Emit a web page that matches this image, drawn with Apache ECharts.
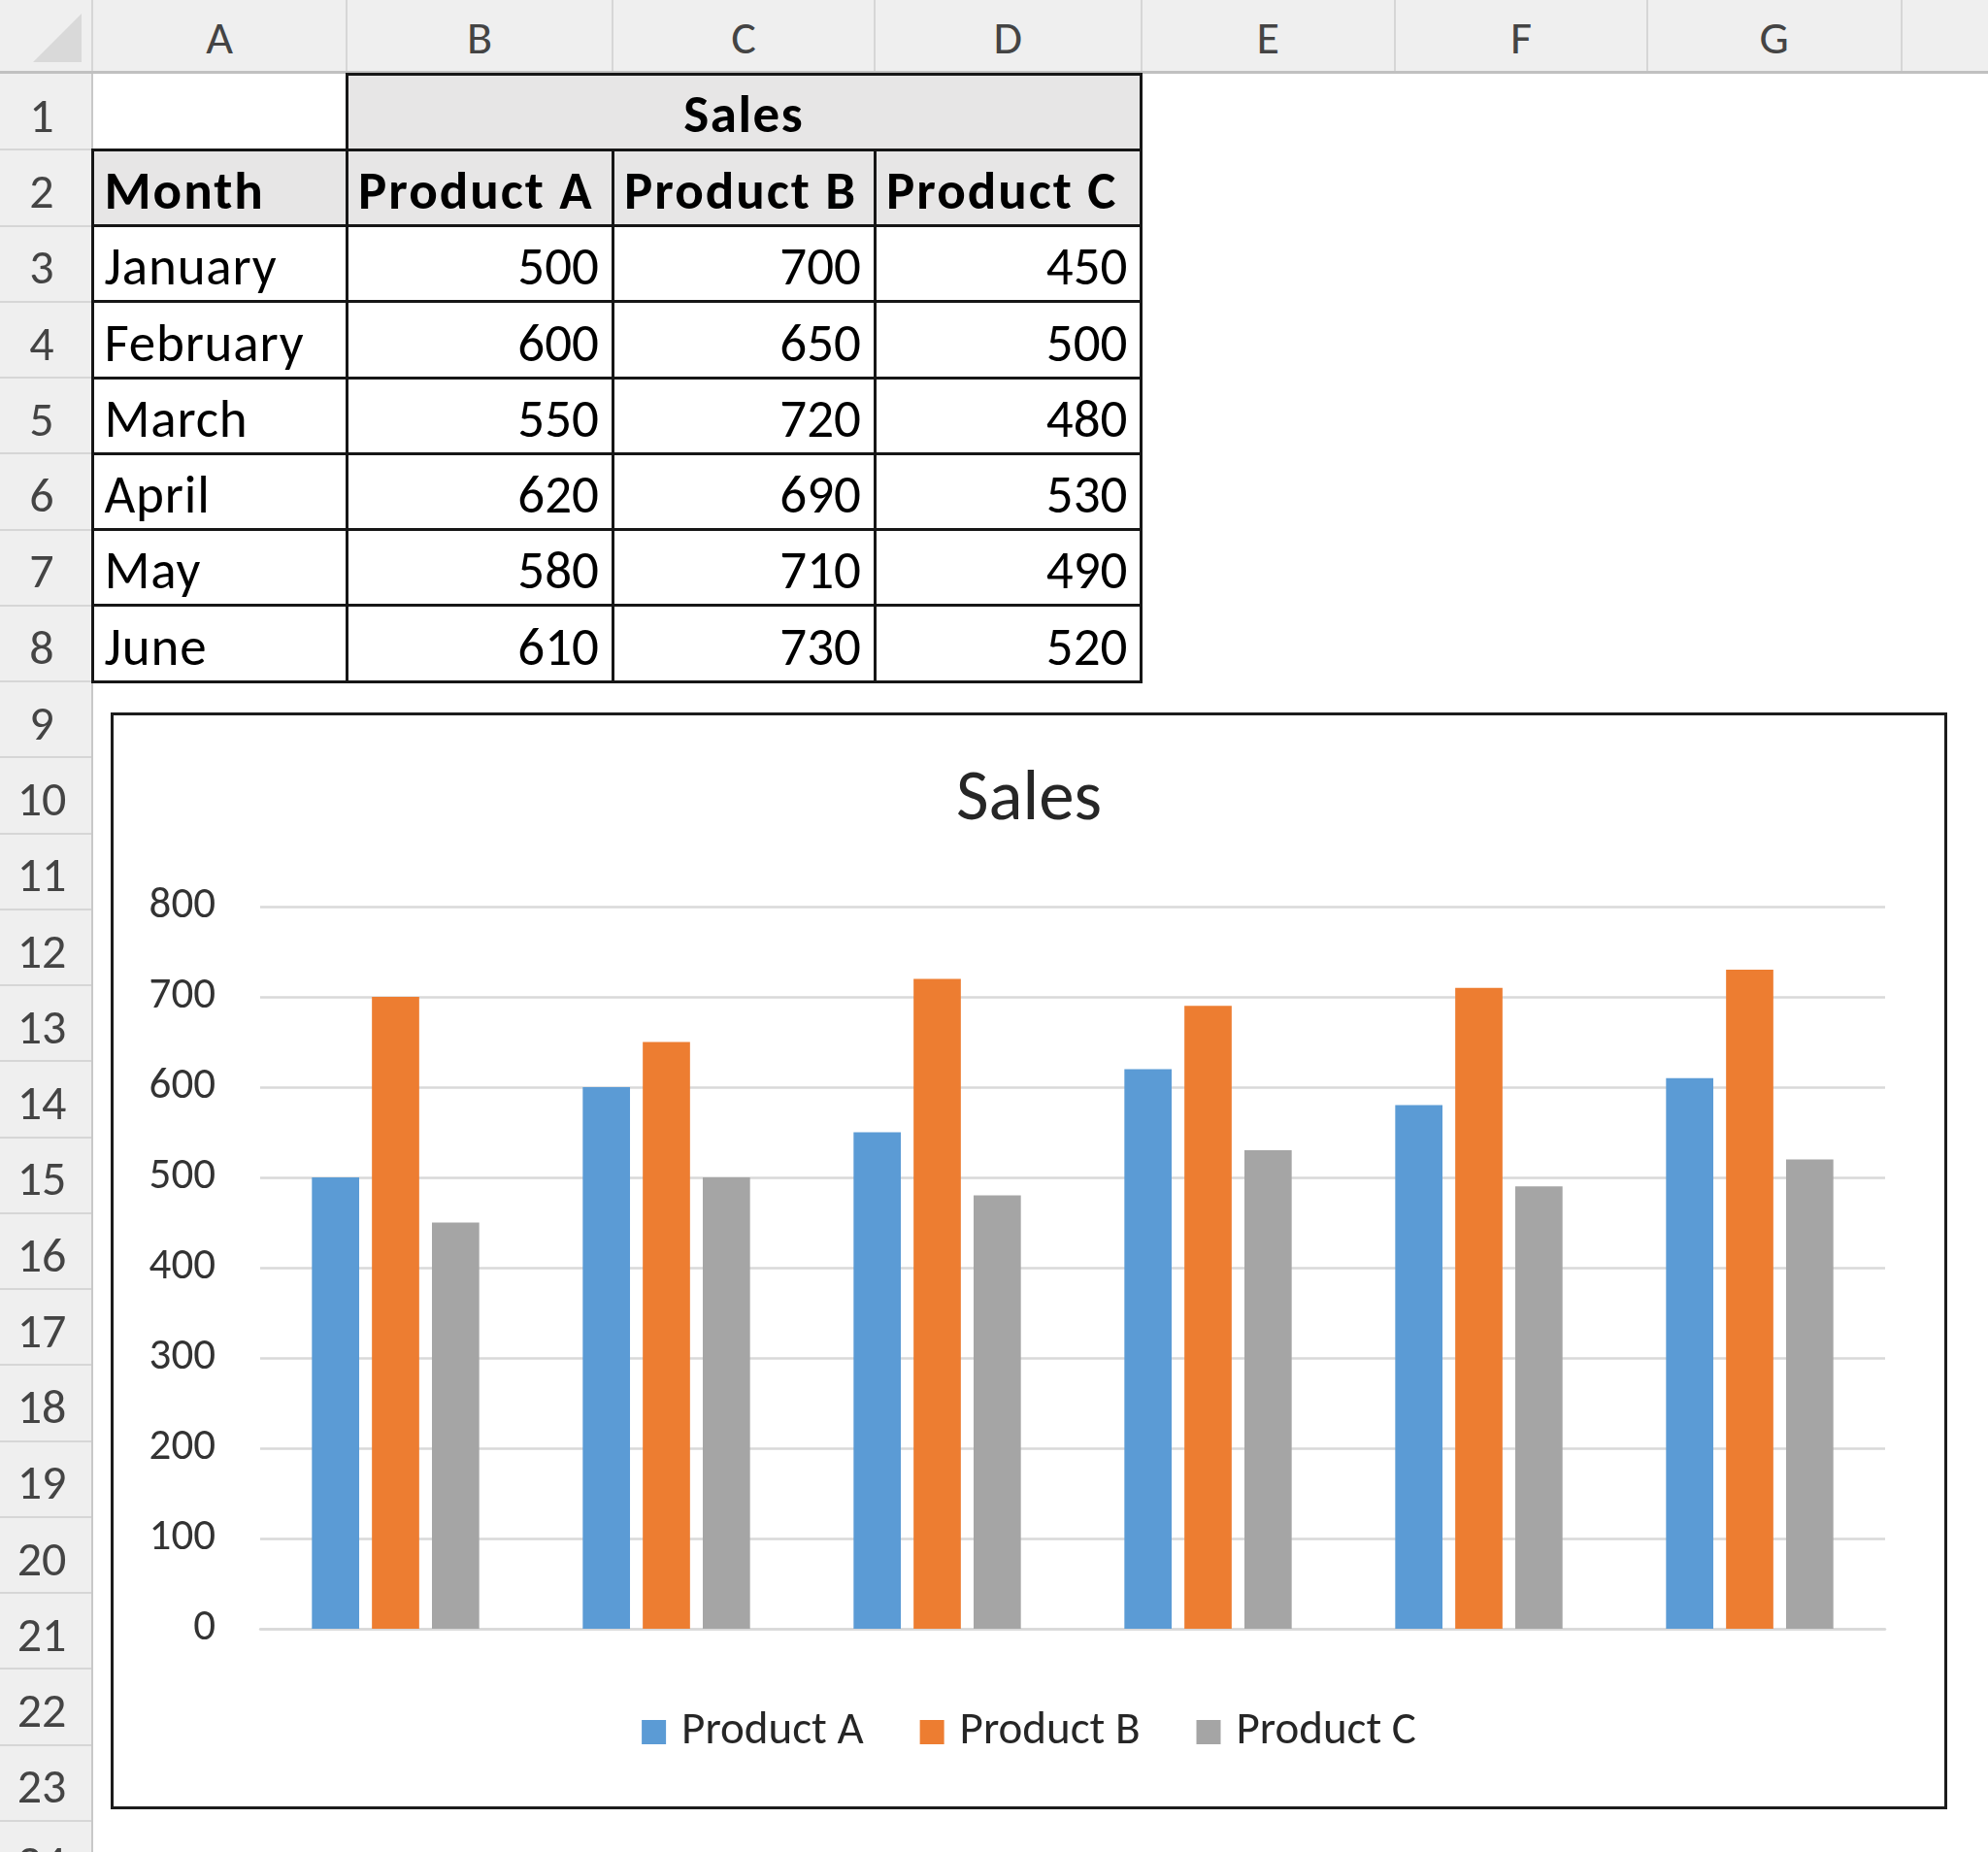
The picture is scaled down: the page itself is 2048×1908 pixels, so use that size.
<!DOCTYPE html>
<html>
<head>
<meta charset="utf-8">
<script src="https://cdn.jsdelivr.net/npm/echarts@6/dist/echarts.min.js"></script>
<style>
  html, body { margin:0; padding:0; background:#fff; }
  #page { position:relative; width:2048px; height:1908px; overflow:hidden; background:#fff; font-family: Calibri, Carlito, Lato, sans-serif; }
  .abs { position:absolute; }
  .txt { position:absolute; white-space:nowrap; line-height:1; }
  #chartBox { position:absolute; left:114px; top:734px; width:1892px; height:1130px; box-sizing:border-box; border:3px solid #1c1c1c; background:#fff; }
  #chart { position:absolute; left:0; top:0; width:1886px; height:1124px; }
</style>
</head>
<body>
<div id="page">
  <div id="chartBox"><div id="chart"></div></div>
</div>
<script>
// ---- data ----
const months = ['January', 'February', 'March', 'April', 'May', 'June'];
const productA = [500, 600, 550, 620, 580, 610];
const productB = [700, 650, 720, 690, 710, 730];
const productC = [450, 500, 480, 530, 490, 520];
const seriesNames = ['Product A', 'Product B', 'Product C'];
const tableTitle = 'Sales';
const monthHeader = 'Month';
const colLetters = ['A', 'B', 'C', 'D', 'E', 'F', 'G', 'H'];
const yMin = 0, yMax = 800, yStep = 100;

// ---- spreadsheet layout ----
const page = document.getElementById('page');
const chartBox = document.getElementById('chartBox');
const HEADER_H = 76, ROW_H = 78.25, RH_W = 95.5;
const colEdges = [95.5, 357, 631, 901, 1175.5, 1437, 1697, 1958.5, 2220];
const NROWS = 24;
const rowTop = r => HEADER_H + (r - 1) * ROW_H;

function box(x, y, w, h, bg, extra) {
  const d = document.createElement('div');
  d.className = 'abs';
  Object.assign(d.style, { left: x + 'px', top: y + 'px', width: w + 'px', height: h + 'px', background: bg }, extra || {});
  page.insertBefore(d, chartBox);
  return d;
}
function text(str, opts) {
  const d = document.createElement('div');
  d.className = 'txt';
  d.textContent = str;
  const s = d.style;
  s.fontSize = opts.size + 'px';
  s.color = opts.color || '#000';
  s.fontWeight = opts.bold ? 'bold' : 'normal';
  if (opts.spacing) s.letterSpacing = opts.spacing + 'px';
  if (opts.align === 'left') { s.left = opts.x + 'px'; }
  else if (opts.align === 'right') { s.right = (2048 - opts.x) + 'px'; }
  else { s.left = opts.x + 'px'; s.transform = 'translateX(-50%)'; }
  s.top = (opts.baseline - opts.size * 0.887) + 'px';
  page.insertBefore(d, chartBox);
}

// column header band
box(0, 0, 2048, HEADER_H, '#efefef');
// row header band
box(0, 0, RH_W, 1908, '#efefef');
// corner triangle
box(34, 14, 50, 50, '#d9d9d9', { clipPath: 'polygon(100% 0, 100% 100%, 0 100%)' });
// column separators and letters
for (let i = 0; i < colLetters.length; i++) {
  const x0 = colEdges[i], x1 = colEdges[i + 1];
  box(x1 - 1, 0, 2, HEADER_H, '#d6d6d6');
  text(colLetters[i], { x: (x0 + x1) / 2, baseline: 58, size: 48, color: '#444', align: 'center' });
}
box(RH_W - 2, 0, 2, HEADER_H, '#d6d6d6');
// header bottom line & row header right line
box(0, HEADER_H - 3, 2048, 3, '#c0c0c0');
box(RH_W - 2, HEADER_H, 2, 1908, '#c8c8c8');
// row numbers
for (let r = 1; r <= NROWS; r++) {
  const t = rowTop(r);
  box(0, t + ROW_H - 1, RH_W - 2, 2, '#d6d6d6');
  text(String(r), { x: 43, baseline: t + ROW_H - 16, size: 50, color: '#444', align: 'center' });
}

// ---- table cells ----
const FILL = '#e7e6e6';
const TSIZE = 55;
// B1:D1 merged title
box(colEdges[1], rowTop(1), colEdges[4] - colEdges[1], ROW_H, FILL);
text(tableTitle, { x: (colEdges[1] + colEdges[4]) / 2, baseline: rowTop(1) + ROW_H - 15, size: TSIZE, bold: true, spacing: 1.5, align: 'center' });
// header row 2
box(colEdges[0], rowTop(2), colEdges[4] - colEdges[0], ROW_H, FILL);
const headerRow = [monthHeader].concat(seriesNames);
headerRow.forEach((h, i) => {
  text(h, { x: colEdges[i] + 12, baseline: rowTop(2) + ROW_H - 14.5, size: TSIZE, bold: true, spacing: 2, align: 'left' });
});
// data rows
const seriesData = [productA, productB, productC];
months.forEach((m, k) => {
  const r = 3 + k;
  const bl = rowTop(r) + ROW_H - 14.5;
  text(m, { x: colEdges[0] + 12, baseline: bl, size: TSIZE, spacing: 0.8, align: 'left' });
  seriesData.forEach((arr, j) => {
    text(String(arr[k]), { x: colEdges[j + 2] - 14, baseline: bl, size: TSIZE, align: 'right' });
  });
});
// borders
const BC = '#161616', BW = 3;
box(colEdges[1] - 1.5, rowTop(1) - 1.5, colEdges[4] - colEdges[1] + 3, BW, BC);
for (let r = 2; r <= 9; r++) {
  box(colEdges[0] - 1.5, rowTop(r) - 1.5, colEdges[4] - colEdges[0] + 3, BW, BC);
}
box(colEdges[0] - 1.5, rowTop(2) - 1.5, BW, rowTop(9) - rowTop(2) + 3, BC);
for (let c = 1; c <= 4; c++) {
  const top = (c === 1 || c === 4) ? rowTop(1) : rowTop(2);
  box(colEdges[c] - 1.5, top - 1.5, BW, rowTop(9) - top + 3, BC);
}

// ---- chart ----
const FONT = 'Calibri, Carlito, Lato, sans-serif';
const colors = ['#5B9BD5', '#ED7D31', '#A5A5A5'];
const chart = echarts.init(document.getElementById('chart'), null, { renderer: 'canvas' });
chart.setOption({
  animation: false,
  backgroundColor: '#ffffff',
  color: colors,
  title: {
    text: tableTitle,
    left: 'center',
    top: 47,
    textStyle: { fontFamily: FONT, fontSize: 73, fontWeight: 'normal', color: '#262626' }
  },
  legend: {
    data: seriesNames,
    top: 1019,
    left: 'center',
    icon: 'rect',
    itemWidth: 25,
    itemHeight: 25,
    itemGap: 58,
    textStyle: { fontFamily: FONT, fontSize: 47, color: '#262626', padding: [0, 0, 0, 11] }
  },
  grid: { left: 151, right: 61, top: 197, bottom: 183 },
  xAxis: {
    type: 'category',
    data: months,
    axisLine: { lineStyle: { color: '#d9d9d9', width: 2.5 } },
    axisTick: { show: false },
    axisLabel: { show: false }
  },
  yAxis: {
    type: 'value',
    min: yMin,
    max: yMax,
    interval: yStep,
    axisLine: { show: false },
    axisTick: { show: false },
    splitLine: { lineStyle: { color: '#d9d9d9', width: 2.5 } },
    axisLabel: { fontFamily: FONT, fontSize: 45, color: '#333333', margin: 46 }
  },
  series: seriesNames.map((name, i) => ({
    name: name,
    type: 'bar',
    data: seriesData[i],
    barWidth: '17.45%',
    barGap: '27%',
    itemStyle: { color: colors[i] }
  }))
});
</script>
</body>
</html>
